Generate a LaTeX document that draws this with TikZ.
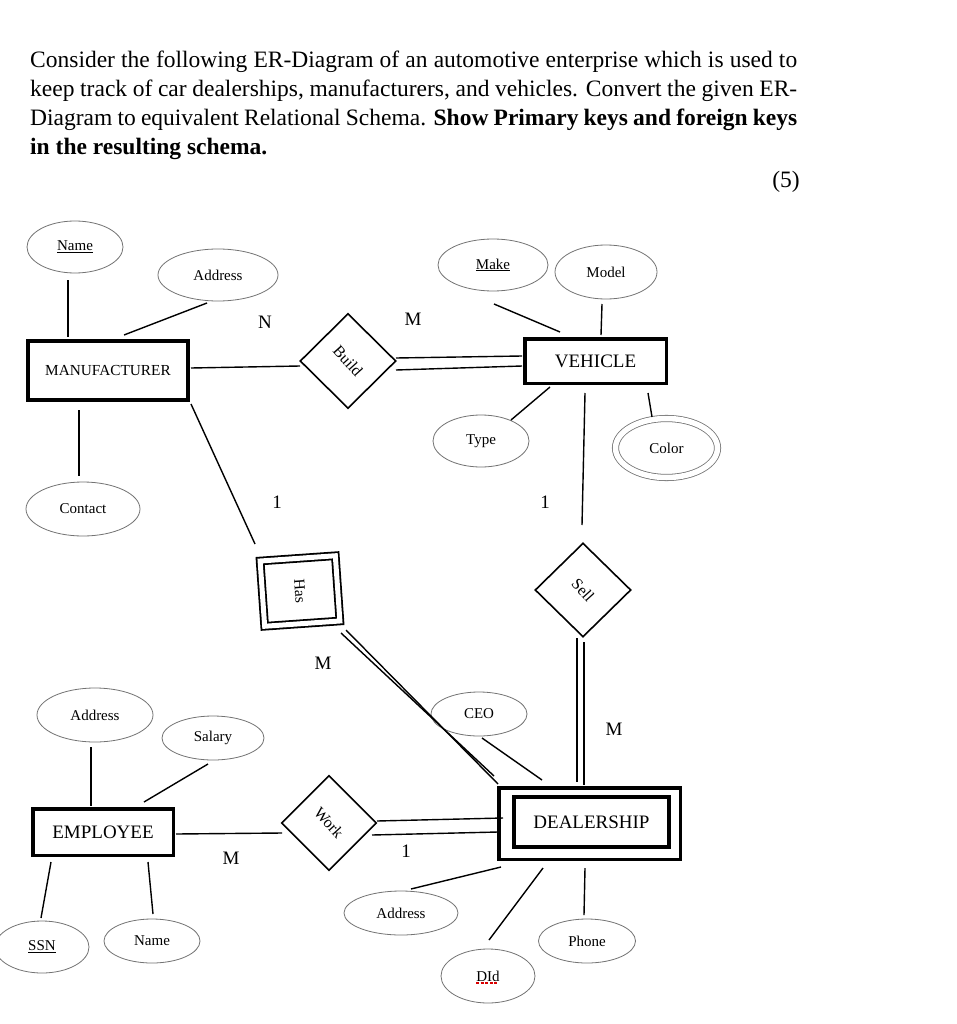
\documentclass[tikz,border=0pt]{standalone}
\usepackage{fontspec}
\setmainfont{Liberation Serif}
\usetikzlibrary{shapes.geometric}
\begin{document}
\begin{tikzpicture}[x=1pt,y=-1pt,
  attr/.style={ellipse, draw=black!55, line width=0.8pt, inner sep=0pt, font=\fontsize{15}{18}\selectfont},
  ent/.style={rectangle, draw, line width=3.5pt, inner sep=0pt, font=\fontsize{19}{22}\selectfont},
  rel/.style={diamond, draw, line width=1.6pt, inner sep=0pt, minimum width=95pt, minimum height=95pt},
  rlabel/.style={font=\fontsize{16}{18}\selectfont, inner sep=0pt, rotate=-48},
  card/.style={font=\fontsize{19}{22}\selectfont, inner sep=0pt},
  conn/.style={line width=1.4pt},
  title/.style={anchor=base west, inner sep=0pt, font=\fontsize{23.5}{29}\selectfont},
]
\useasboundingbox[fill=white] (0,0) rectangle (956,1024);

% ---- question text ----
\node[title] (t1) at (30,68) {\makebox[767pt][s]{Consider the following ER-Diagram of an automotive enterprise which is used to}};
\node[title] (t2) at (30,97) {\makebox[767pt][s]{keep track of car dealerships, manufacturers, and vehicles. Convert the given ER-}};
\node[title] (t3) at (30,126) {\makebox[767pt][s]{Diagram to equivalent Relational Schema. \textbf{Show Primary keys and foreign keys}}};
\node[title] (t4) at (30,155) {\textbf{in the resulting schema.}};
\node[title, anchor=base east] (marks) at (800,188) {(5)};

% ---- entities ----
\node[ent, line width=4pt, minimum width=160pt, minimum height=59pt, font=\fontsize{15.3}{18}\selectfont] (mfr) at (108,370.5) {MANUFACTURER};
\node[ent, minimum width=141.5pt, minimum height=44.5pt] (veh) at (595.5,361) {VEHICLE};
\node[ent, minimum width=140.5pt, minimum height=46.5pt] (emp) at (103,832) {EMPLOYEE};
\node[draw, line width=3.5pt, minimum width=181.5pt, minimum height=71.5pt, inner sep=0pt] (dealerO) at (589.5,823.5) {};
\node[ent, line width=4pt, minimum width=155pt, minimum height=50pt] (dealer) at (591.5,822) {DEALERSHIP};

% ---- attributes ----
\node[attr, minimum width=96pt, minimum height=52pt] (nameM) at (75,247) {\underline{Name}};
\node[attr, minimum width=120pt, minimum height=52pt] (addrM) at (218,275) {Address};
\node[attr, minimum width=114pt, minimum height=54pt] (contact) at (83,509) {Contact};
\node[attr, minimum width=110pt, minimum height=52pt] (make) at (493,265) {\underline{Make}};
\node[attr, minimum width=102pt, minimum height=54pt] (model) at (606,272) {Model};
\node[attr, minimum width=96pt, minimum height=52pt] (type) at (481,441) {Type};
\node[attr, double, double distance=5.5pt, minimum width=102pt, minimum height=59pt] (color) at (666.5,448) {Color};
\node[attr, minimum width=116pt, minimum height=54pt] (addrE) at (95,715) {Address};
\node[attr, minimum width=102pt, minimum height=44pt] (salary) at (213,738) {Salary};
\node[attr, minimum width=94pt, minimum height=52pt] (ssn) at (42,947) {\underline{SSN}};
\node[attr, minimum width=96pt, minimum height=44pt] (nameE) at (152,941) {Name};
\node[attr, minimum width=96pt, minimum height=44pt] (ceo) at (479,714) {CEO};
\node[attr, minimum width=114pt, minimum height=44pt] (addrD) at (401,913) {Address};
\node[attr, minimum width=94pt, minimum height=54pt] (did) at (488,976) {DId};
\node[attr, minimum width=97pt, minimum height=44pt] (phone) at (587,941) {Phone};
\draw[red!85!black, line width=2pt, dash pattern=on 3pt off 1.6pt] ([shift={(-12,7)}]did.center) -- ([shift={(9,7)}]did.center);

% ---- relationships ----
\node[rel, minimum width=96pt] (build) at (348,361) {};
\node[rlabel] (buildT) at (build) {Build};
\node[rel, minimum width=96pt, minimum height=94pt] (sell) at (583,590) {};
\node[rlabel] (sellT) at (sell) {Sell};
\node[rel] (work) at (329,823) {};
\node[rlabel] (workT) at (work) {Work};
\node[draw, line width=1.8pt, double, double distance=5pt, minimum width=75.4pt, minimum height=65.4pt, inner sep=0pt, rotate=4, font=\fontsize{15.5}{18}\selectfont] (has) at (300,591) {\rotatebox{-90}{Has}};

% ---- connectors ----
\draw[conn] ([shift={(-7,33)}]nameM.center) -- ([shift={(-40,-33.5)}]mfr.center);
\draw[conn] ([shift={(-11,28)}]addrM.center) -- ([shift={(16,-35.5)}]mfr.center);
\draw[conn] ([shift={(-29,39.5)}]mfr.center) -- ([shift={(-4,-33)}]contact.center);
\draw[conn] ([shift={(83,-2.5)}]mfr.center) -- ([shift={(-48,5)}]build.center);
\draw[conn] ([shift={(48,-3)}]build.center) -- ([shift={(-73.5,-5)}]veh.center);
\draw[conn] ([shift={(48,9)}]build.center) -- ([shift={(-73.5,5)}]veh.center);
\draw[conn] ([shift={(1,39)}]make.center) -- ([shift={(-35.5,-29)}]veh.center);
\draw[conn] ([shift={(-4,32)}]model.center) -- ([shift={(5.5,-26)}]veh.center);
\draw[conn] ([shift={(-45.5,26)}]veh.center) -- ([shift={(30,-21)}]type.center);
\draw[conn] ([shift={(52.5,32)}]veh.center) -- ([shift={(-14.5,-31)}]color.center);
\draw[conn] ([shift={(-10.5,32)}]veh.center) -- ([shift={(-1,-65)}]sell.center);
\draw[conn] ([shift={(83,33.5)}]mfr.center) -- ([shift={(-45,-47)}]has.center);
\draw[conn] ([shift={(41,42)}]has.center) -- ([shift={(-95.5,-47.5)}]dealerO.center);
\draw[conn] ([shift={(46,39)}]has.center) -- ([shift={(-91.5,-39.5)}]dealerO.center);
\draw[conn] ([shift={(3,24)}]ceo.center) -- ([shift={(-47.5,-43.5)}]dealerO.center);
\draw[conn] ([shift={(-6,48)}]sell.center) -- ([shift={(-12.5,-41.5)}]dealerO.center);
\draw[conn] ([shift={(1,52)}]sell.center) -- ([shift={(-5.5,-38.5)}]dealerO.center);
\draw[conn] ([shift={(-4,32)}]addrE.center) -- ([shift={(-12,-26)}]emp.center);
\draw[conn] ([shift={(-5,26)}]salary.center) -- ([shift={(41,-30)}]emp.center);
\draw[conn] ([shift={(73,2)}]emp.center) -- ([shift={(-47,10)}]work.center);
\draw[conn] ([shift={(48,-2)}]work.center) -- ([shift={(-86.5,-5.5)}]dealerO.center);
\draw[conn] ([shift={(43,12)}]work.center) -- ([shift={(-91.5,8.5)}]dealerO.center);
\draw[conn] ([shift={(-52,30)}]emp.center) -- ([shift={(-1,-29)}]ssn.center);
\draw[conn] ([shift={(45,30)}]emp.center) -- ([shift={(1,-27)}]nameE.center);
\draw[conn] ([shift={(-88.5,43.5)}]dealerO.center) -- ([shift={(10,-24)}]addrD.center);
\draw[conn] ([shift={(-46.5,44.5)}]dealerO.center) -- ([shift={(1,-36)}]did.center);
\draw[conn] ([shift={(-4.5,44.5)}]dealerO.center) -- ([shift={(-3,-26)}]phone.center);

% ---- cardinalities ----
\node[card] (cN) at (265,322) {N};
\node[card] (cBM) at (413,319) {M};
\node[card] (cH1) at (277,502) {1};
\node[card] (cS1) at (545,502) {1};
\node[card] (cHM) at (323,663) {M};
\node[card] (cSM) at (614,729) {M};
\node[card] (cWM) at (231,858) {M};
\node[card] (cW1) at (406,851) {1};
\end{tikzpicture}
\end{document}
